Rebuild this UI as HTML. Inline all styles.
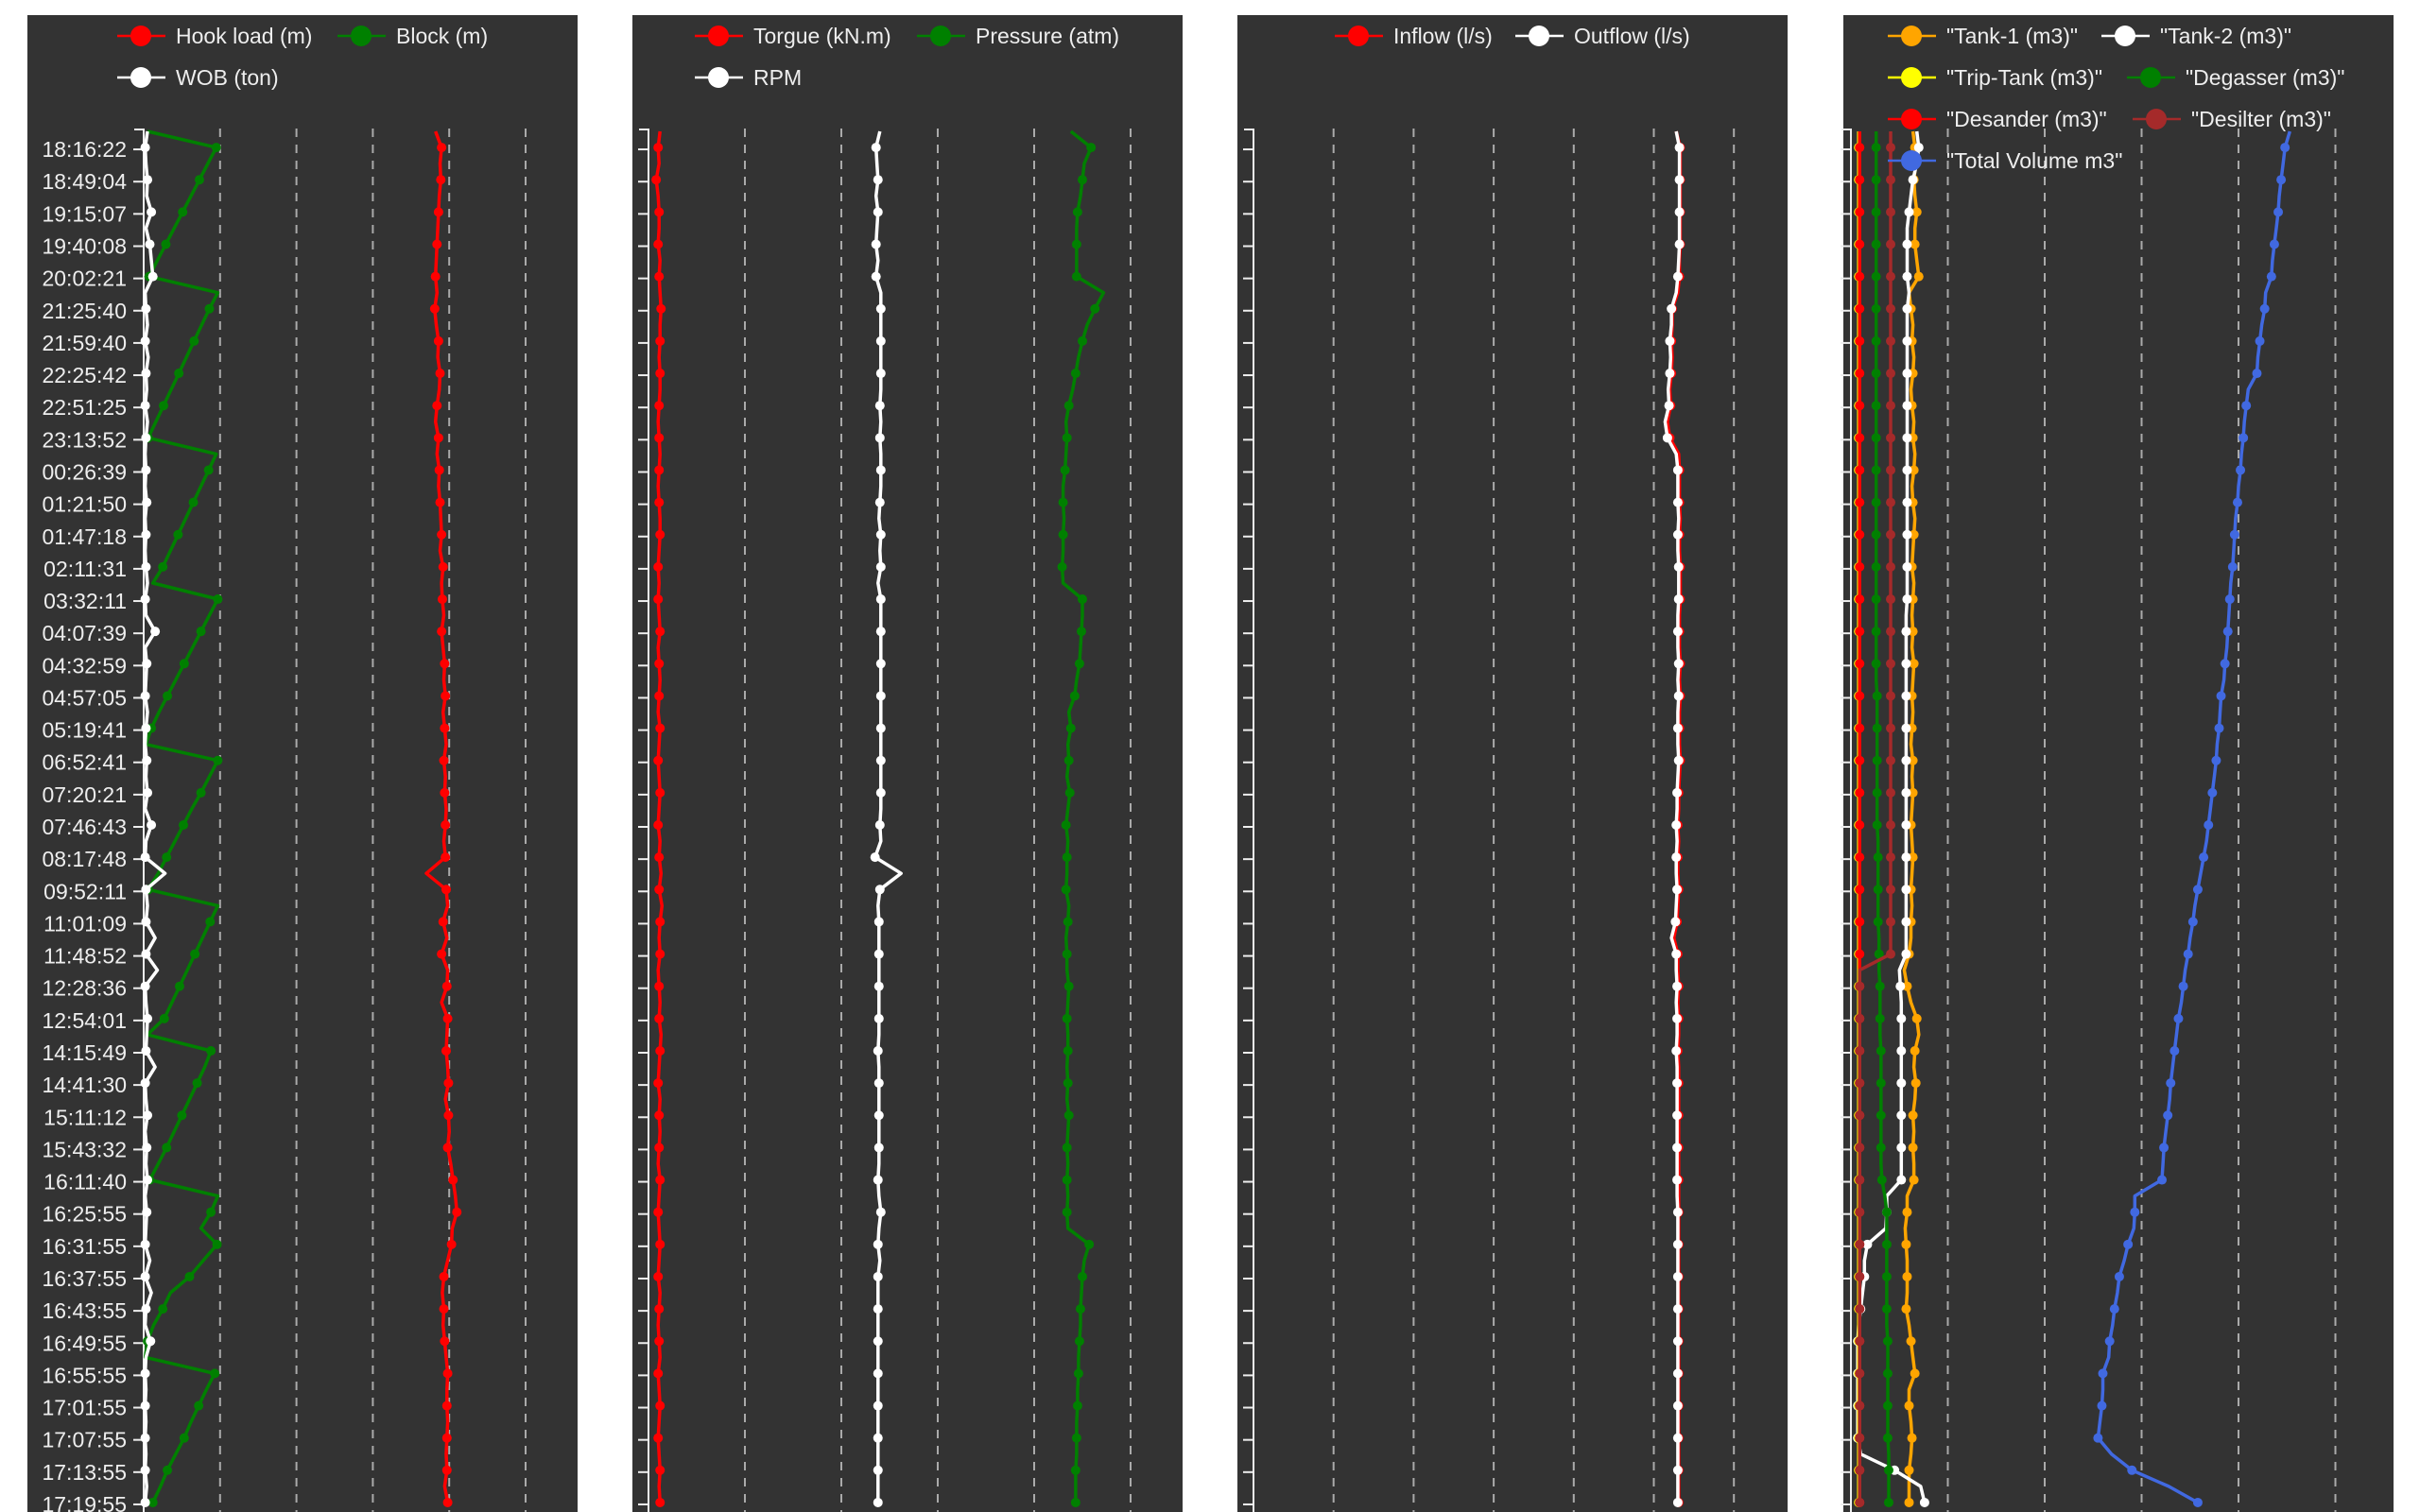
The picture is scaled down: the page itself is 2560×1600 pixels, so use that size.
<!DOCTYPE html>
<html><head><meta charset="utf-8">
<style>
html,body{margin:0;padding:0;background:#fff;}
svg{display:block;}
text{font-family:"Liberation Sans",sans-serif;}
</style></head>
<body>
<svg id="chart" width="2560" height="1600" xmlns="http://www.w3.org/2000/svg"></svg>
<script>
const timeLabels=["18:16:22","18:49:04","19:15:07","19:40:08","20:02:21","21:25:40","21:59:40","22:25:42","22:51:25","23:13:52","00:26:39","01:21:50","01:47:18","02:11:31","03:32:11","04:07:39","04:32:59","04:57:05","05:19:41","06:52:41","07:20:21","07:46:43","08:17:48","09:52:11","11:01:09","11:48:52","12:28:36","12:54:01","14:15:49","14:41:30","15:11:12","15:43:32","16:11:40","16:25:55","16:31:55","16:37:55","16:43:55","16:49:55","16:55:55","17:01:55","17:07:55","17:13:55","17:19:55"];
const hookLoad=[3.82,3.9,3.88,3.89,3.87,3.86,3.85,3.84,3.83,3.82,3.84,3.81,3.83,3.86,3.85,3.88,3.87,3.84,3.82,3.86,3.84,3.87,3.86,3.88,3.89,3.9,3.88,3.92,3.9,3.91,3.93,3.9,3.92,3.94,3.93,3.95,3.92,3.94,3.96,3.93,3.95,3.94,3.96,3.95,3.93,3.95,3.7,3.96,3.98,3.92,3.97,3.9,3.98,3.97,3.9,3.98,3.97,3.96,3.98,3.99,3.95,3.99,4.0,3.98,4.02,4.05,4.08,4.1,4.04,4.03,3.98,3.93,3.91,3.93,3.92,3.94,3.96,3.98,3.97,3.97,3.98,3.97,3.96,3.97,3.94,3.98];
const block=[0.05,0.95,0.84,0.73,0.62,0.51,0.4,0.29,0.18,0.07,0.97,0.86,0.76,0.66,0.56,0.46,0.36,0.26,0.16,0.06,0.95,0.85,0.75,0.65,0.55,0.45,0.35,0.25,0.12,0.97,0.86,0.75,0.64,0.53,0.42,0.31,0.2,0.1,0.03,0.97,0.86,0.75,0.63,0.52,0.41,0.3,0.19,0.06,0.97,0.87,0.77,0.67,0.57,0.47,0.37,0.27,0.05,0.88,0.8,0.7,0.6,0.5,0.4,0.3,0.19,0.08,0.97,0.88,0.75,0.96,0.78,0.6,0.35,0.25,0.13,0.05,0.02,0.93,0.82,0.72,0.62,0.53,0.42,0.31,0.22,0.12];
const wob=[0.05,0.02,0.03,0.05,0.04,0.1,0.03,0.08,0.1,0.12,0.02,0.03,0.05,0.02,0.06,0.03,0.04,0.02,0.05,0.03,0.02,0.03,0.02,0.04,0.02,0.03,0.02,0.03,0.05,0.02,0.03,0.15,0.02,0.04,0.03,0.02,0.05,0.03,0.02,0.04,0.03,0.05,0.02,0.1,0.03,0.02,0.28,0.03,0.05,0.03,0.15,0.03,0.18,0.02,0.03,0.05,0.04,0.03,0.15,0.02,0.03,0.05,0.02,0.04,0.03,0.05,0.02,0.04,0.03,0.02,0.08,0.02,0.1,0.03,0.02,0.09,0.03,0.02,0.03,0.02,0.03,0.02,0.03,0.02,0.04,0.02];
const torque=[0.12,0.1,0.11,0.08,0.1,0.11,0.11,0.1,0.12,0.11,0.12,0.13,0.12,0.12,0.11,0.12,0.12,0.11,0.1,0.11,0.12,0.11,0.1,0.11,0.12,0.12,0.11,0.1,0.11,0.1,0.11,0.12,0.1,0.11,0.12,0.11,0.1,0.12,0.11,0.1,0.11,0.12,0.11,0.1,0.12,0.11,0.13,0.11,0.14,0.12,0.11,0.12,0.1,0.11,0.12,0.11,0.13,0.12,0.11,0.1,0.12,0.11,0.12,0.11,0.1,0.12,0.11,0.1,0.11,0.12,0.11,0.1,0.12,0.11,0.1,0.11,0.12,0.1,0.11,0.12,0.11,0.1,0.11,0.12,0.11,0.12];
const rpm=[2.4,2.36,2.37,2.38,2.36,2.38,2.37,2.36,2.38,2.36,2.41,2.41,2.41,2.41,2.41,2.41,2.41,2.4,2.41,2.4,2.41,2.41,2.41,2.4,2.39,2.41,2.4,2.41,2.38,2.41,2.41,2.41,2.41,2.41,2.41,2.41,2.41,2.41,2.41,2.41,2.41,2.41,2.41,2.4,2.41,2.35,2.62,2.4,2.38,2.39,2.39,2.39,2.39,2.39,2.39,2.39,2.39,2.38,2.39,2.39,2.39,2.39,2.39,2.39,2.39,2.38,2.39,2.41,2.39,2.38,2.4,2.38,2.38,2.38,2.38,2.38,2.38,2.38,2.38,2.38,2.38,2.38,2.38,2.38,2.38,2.38];
const pressure=[4.38,4.59,4.52,4.5,4.48,4.45,4.44,4.44,4.44,4.44,4.72,4.63,4.55,4.5,4.46,4.43,4.4,4.36,4.33,4.34,4.33,4.32,4.3,4.3,4.31,4.3,4.3,4.29,4.3,4.5,4.5,4.49,4.48,4.47,4.44,4.42,4.36,4.38,4.35,4.36,4.34,4.37,4.35,4.33,4.35,4.34,4.34,4.33,4.36,4.35,4.33,4.34,4.34,4.36,4.35,4.34,4.35,4.35,4.34,4.35,4.34,4.36,4.35,4.34,4.35,4.34,4.35,4.34,4.35,4.57,4.52,4.5,4.49,4.48,4.48,4.47,4.46,4.46,4.45,4.45,4.44,4.44,4.44,4.43,4.43,4.43];
const outflow=[5.28,5.32,5.32,5.32,5.32,5.32,5.32,5.32,5.31,5.3,5.28,5.22,5.22,5.2,5.21,5.2,5.18,5.19,5.14,5.17,5.28,5.3,5.3,5.3,5.31,5.3,5.3,5.31,5.31,5.31,5.3,5.3,5.3,5.31,5.3,5.31,5.3,5.3,5.3,5.31,5.3,5.29,5.29,5.28,5.29,5.28,5.28,5.29,5.28,5.27,5.22,5.28,5.28,5.29,5.28,5.29,5.29,5.28,5.29,5.29,5.29,5.29,5.29,5.29,5.29,5.29,5.29,5.3,5.3,5.3,5.3,5.3,5.3,5.3,5.3,5.3,5.3,5.3,5.3,5.3,5.3,5.3,5.3,5.3,5.3,5.3];
const inflow=[5.28,5.33,5.33,5.33,5.33,5.33,5.33,5.33,5.32,5.32,5.3,5.23,5.23,5.22,5.23,5.22,5.2,5.21,5.17,5.2,5.31,5.32,5.32,5.32,5.33,5.32,5.32,5.33,5.33,5.33,5.32,5.32,5.32,5.33,5.32,5.33,5.32,5.32,5.32,5.33,5.32,5.31,5.31,5.3,5.31,5.3,5.3,5.31,5.3,5.29,5.25,5.3,5.3,5.31,5.3,5.31,5.31,5.3,5.31,5.31,5.31,5.31,5.31,5.31,5.31,5.31,5.31,5.31,5.31,5.31,5.31,5.31,5.31,5.31,5.31,5.31,5.31,5.31,5.31,5.31,5.31,5.31,5.31,5.31,5.31,5.31];
const tank1=[0.64,0.66,0.67,0.65,0.66,0.68,0.66,0.66,0.68,0.7,0.6,0.62,0.64,0.63,0.65,0.64,0.62,0.63,0.65,0.64,0.66,0.65,0.63,0.64,0.66,0.65,0.64,0.63,0.65,0.64,0.63,0.64,0.63,0.65,0.64,0.63,0.64,0.63,0.62,0.64,0.63,0.64,0.63,0.62,0.63,0.64,0.63,0.62,0.63,0.62,0.62,0.6,0.55,0.58,0.62,0.68,0.7,0.66,0.65,0.67,0.66,0.64,0.65,0.64,0.65,0.65,0.58,0.58,0.56,0.57,0.58,0.58,0.58,0.57,0.6,0.62,0.64,0.66,0.6,0.6,0.62,0.63,0.62,0.6,0.6,0.6];
const tank2=[0.68,0.7,0.68,0.64,0.62,0.6,0.58,0.58,0.58,0.58,0.6,0.58,0.58,0.58,0.58,0.58,0.58,0.58,0.58,0.58,0.58,0.58,0.58,0.58,0.58,0.58,0.58,0.58,0.58,0.58,0.57,0.57,0.57,0.57,0.57,0.57,0.57,0.57,0.57,0.57,0.57,0.57,0.57,0.57,0.57,0.57,0.57,0.57,0.57,0.57,0.57,0.57,0.5,0.51,0.52,0.52,0.52,0.52,0.52,0.52,0.52,0.52,0.52,0.52,0.52,0.52,0.37,0.37,0.36,0.17,0.14,0.14,0.12,0.1,0.08,0.07,0.07,0.07,0.07,0.07,0.07,0.07,0.1,0.45,0.72,0.76];
const tripTank=Array(86).fill(0.08);
const degasser=[0.26,0.26,0.26,0.26,0.26,0.26,0.26,0.26,0.26,0.26,0.26,0.26,0.26,0.26,0.26,0.26,0.26,0.26,0.26,0.26,0.26,0.26,0.26,0.26,0.26,0.26,0.26,0.26,0.26,0.26,0.26,0.26,0.26,0.26,0.26,0.27,0.27,0.27,0.27,0.27,0.27,0.27,0.27,0.27,0.28,0.28,0.28,0.28,0.28,0.28,0.29,0.29,0.29,0.3,0.3,0.3,0.3,0.31,0.31,0.31,0.31,0.31,0.31,0.31,0.31,0.32,0.35,0.37,0.37,0.37,0.37,0.37,0.37,0.37,0.37,0.38,0.38,0.38,0.38,0.38,0.38,0.38,0.39,0.39,0.39,0.39];
const desander=Array(86).fill(0.09);
const desilter=[0.41,0.41,0.41,0.41,0.41,0.41,0.41,0.41,0.41,0.41,0.41,0.41,0.41,0.41,0.41,0.41,0.41,0.41,0.41,0.41,0.41,0.41,0.41,0.41,0.41,0.41,0.41,0.41,0.41,0.41,0.41,0.41,0.41,0.41,0.41,0.41,0.41,0.41,0.41,0.41,0.41,0.41,0.41,0.41,0.41,0.41,0.41,0.41,0.41,0.41,0.41,0.41,0.09,0.09,0.09,0.09,0.09,0.09,0.09,0.09,0.09,0.09,0.09,0.09,0.09,0.09,0.09,0.09,0.09,0.09,0.09,0.09,0.09,0.09,0.09,0.09,0.09,0.09,0.09,0.09,0.09,0.09,0.09,0.09,0.09,0.09];
const totalVolume=[4.53,4.48,4.46,4.44,4.42,4.41,4.39,4.37,4.35,4.34,4.28,4.27,4.24,4.22,4.2,4.19,4.1,4.08,4.06,4.05,4.03,4.02,4.0,3.99,3.97,3.96,3.95,3.94,3.92,3.91,3.9,3.89,3.88,3.86,3.85,3.82,3.81,3.8,3.78,3.77,3.75,3.73,3.71,3.69,3.67,3.64,3.61,3.58,3.55,3.53,3.5,3.48,3.45,3.43,3.41,3.38,3.36,3.34,3.32,3.3,3.29,3.27,3.25,3.23,3.22,3.21,2.93,2.93,2.92,2.86,2.82,2.77,2.75,2.72,2.7,2.67,2.66,2.6,2.6,2.59,2.57,2.55,2.69,2.9,3.28,3.58];

const NS="http://www.w3.org/2000/svg";
const svg=document.getElementById('chart');
function el(tag,attrs,parent){const e=document.createElementNS(NS,tag);for(const k in attrs)e.setAttribute(k,attrs[k]);(parent||svg).appendChild(e);return e;}
function yPos(k){return 139+17.07*k;}
const panels=[
 {left:29,axis:152,unit:80.8,grids:5,name:'drilling-panel',labels:true,
  series:[{n:'Hook load (m)',d:hookLoad,c:'#ff0000',id:'hook-load'},{n:'Block (m)',d:block,c:'#008000',id:'block'},{n:'WOB (ton)',d:wob,c:'#ffffff',id:'wob'}],
  legend:[[124,38,0],[357,38,1],[124,82,2]]},
 {left:669,axis:686,unit:102,grids:5,name:'rotation-panel',
  series:[{n:'Torgue (kN.m)',d:torque,c:'#ff0000',id:'torque'},{n:'Pressure (atm)',d:pressure,c:'#008000',id:'pressure'},{n:'RPM',d:rpm,c:'#ffffff',id:'rpm'}],
  legend:[[735,38,0],[970,38,1],[735,82,2]]},
 {left:1309,axis:1326,unit:84.7,grids:6,name:'flow-panel',
  series:[{n:'Inflow (l/s)',d:inflow,c:'#ff0000',id:'inflow'},{n:'Outflow (l/s)',d:outflow,c:'#ffffff',id:'outflow'}],
  legend:[[1412,38,0],[1603,38,1]]},
 {left:1950,axis:1958,unit:102.5,grids:5,name:'tank-panel',
  series:[{n:'"Tank-1 (m3)"',d:tank1,c:'#ffa500',id:'tank-1'},{n:'"Tank-2 (m3)"',d:tank2,c:'#ffffff',id:'tank-2'},{n:'"Trip-Tank (m3)"',d:tripTank,c:'#ffff00',id:'trip-tank'},{n:'"Degasser (m3)"',d:degasser,c:'#008000',id:'degasser'},{n:'"Desander (m3)"',d:desander,c:'#ff0000',id:'desander'},{n:'"Desilter (m3)"',d:desilter,c:'#a52a2a',id:'desilter'},{n:'"Total Volume m3"',d:totalVolume,c:'#4169e1',id:'total-volume'}],
  legend:[[1997,38,0],[2223,38,1],[1997,82,2],[2250,82,3],[1997,126,4],[2256,126,5],[1997,170,6]]}
];
panels.forEach(p=>{
  const g=el('g',{});
  
  
  const bg=el('rect',{x:p.left,y:16,width:582,height:1600,fill:'#333333'},g);
  
  
  for(let i=1;i<=p.grids;i++){
    const x=p.axis+i*p.unit;
    const gl=el('line',{x1:x,y1:136,x2:x,y2:1600,stroke:'#aaaaaa','stroke-width':2,'stroke-dasharray':'9,8'},g);
    
    
  }
  const ax=el('line',{x1:p.axis,y1:136,x2:p.axis,y2:1600,stroke:'#eeeeee','stroke-width':2},g);
  
  
  el('line',{x1:p.axis-10,y1:137,x2:p.axis,y2:137,stroke:'#eeeeee','stroke-width':2},g);
  timeLabels.forEach((t,j)=>{
    const y=yPos(2*j+1)+2;
    const tk=el('line',{x1:p.axis-11,y1:y,x2:p.axis,y2:y,stroke:'#eeeeee','stroke-width':2},g);
    
    
    if(p.labels){
      const tx=el('text',{x:p.axis-18,y:y+8,'text-anchor':'end','font-size':23,fill:'#eeeeee'},g);
      tx.textContent=t;
      
      
    }
  });
  p.series.forEach(s=>{
    const pts=s.d.map((v,k)=>(p.axis+v*p.unit).toFixed(1)+','+yPos(k).toFixed(1)).join(' ');
    const pl=el('polyline',{points:pts,fill:'none',stroke:s.c,'stroke-width':3.5,'stroke-linejoin':'round'},g);
    
    
    s.d.forEach((v,k)=>{
      if(k%2!==1)return;
      const c=el('circle',{cx:p.axis+v*p.unit,cy:yPos(k),r:5,fill:s.c},g);
      
      
    });
  });
  p.legend.forEach(([x,y,i])=>{
    const s=p.series[i];
    const lg=el('g',{},g);
    
    
    el('line',{x1:x,y1:y,x2:x+51,y2:y,stroke:s.c,'stroke-width':2.5},lg);
    el('ellipse',{cx:x+25,cy:y,rx:11,ry:11,fill:s.c},lg);
    const tx=el('text',{x:x+62,y:y+8,'font-size':23,fill:'#eeeeee'},lg);
    tx.textContent=s.n;
  });
});
</script>
</body></html>
